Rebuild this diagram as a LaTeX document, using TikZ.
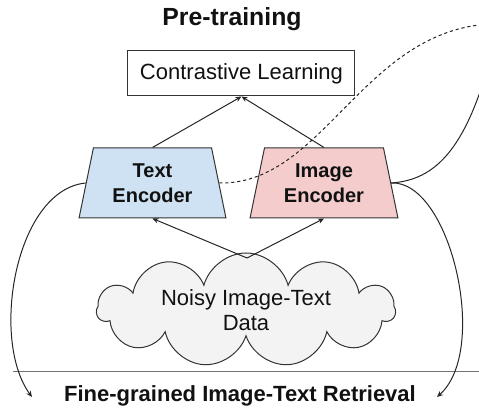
\documentclass[tikz,border=0pt]{standalone}
\usepackage{fontspec}
\setmainfont{Liberation Sans}
\usetikzlibrary{shapes.geometric,shapes.symbols,arrows.meta}
\definecolor{textblue}{HTML}{CFE2F3}
\definecolor{imagepink}{HTML}{F4CCCC}
\definecolor{cloudgray}{HTML}{F3F3F3}
\definecolor{edgegray}{HTML}{333333}
\definecolor{inkgray}{HTML}{111111}

\begin{document}
\begin{tikzpicture}
[x=0.5pt,y=-0.5pt,line width=0.5pt,%
  every node/.style={text=inkgray,inner sep=0pt},%
  flow/.style={-{Stealth[length=3pt,width=2.6pt]},draw=black!85},%
  loop/.style={draw=black!85},%
  encoder/.style={shape=trapezium,draw=edgegray,trapezium stretches=true,%
    trapezium angle=76,minimum width=73.5pt,minimum height=35pt,align=center,%
    font=\fontsize{10}{12.5}\selectfont\bfseries},%
  heading/.style={font=\fontsize{11}{13}\selectfont\bfseries}]
\clip (0,0) rectangle (479,410);
\node[heading,font=\fontsize{12.4}{14}\selectfont\bfseries] (title) at (232,19) {Pre-training};
\node[draw=edgegray,minimum width=113.5pt,minimum height=22.5pt,%
  font=\fontsize{11}{13}\selectfont] (learn) at (241.5,73.5) {Contrastive Learning};
\node[encoder,fill=textblue] (tenc) at (152.5,183) {Text\\Encoder};
\node[encoder,fill=imagepink,minimum width=74pt] (ienc) at (324,183) {Image\\Encoder};
\node[shape=cloud,cloud puffs=11,cloud ignores aspect,draw=edgegray,fill=cloudgray,%
  minimum width=149pt,minimum height=57pt,align=center,%
  font=\fontsize{11}{12.5}\selectfont] (data) at (246,310) {Noisy Image-Text\\Data};
\node[heading] (retrieval) at (240,396) {Fine-grained Image-Text Retrieval};
\coordinate (src) at (247,258);
\coordinate (sepL) at (13,372);
\coordinate (sepR) at (479,372);
\coordinate (farA) at (479,25);
\coordinate (farB) at (490,60);
\coordinate (tipL) at (32,397);
\coordinate (tipR) at (437,397);
% pre-training arrows
\draw[flow] (tenc.north) -- (learn.south);
\draw[flow] (ienc.north) -- (learn.south);
\draw[flow] (src) -- (tenc.south);
\draw[flow] (src) -- (ienc.south);
% links out of the frame
\draw[loop,dash pattern=on 1.6pt off 1.4pt] (tenc.east) .. controls (320,185) and (360,40) .. (farA);
\draw[loop] (ienc.east) .. controls (435,180) and (465,150) .. (farB);
% fine-grained retrieval
\draw[black!55] (sepL) -- (sepR);
\draw[flow] (tenc.west) .. controls (15,190) and (-10,340) .. (tipL);
\draw[flow] (ienc.east) .. controls (450,180) and (490,350) .. (tipR);
\end{tikzpicture}
\end{document}
